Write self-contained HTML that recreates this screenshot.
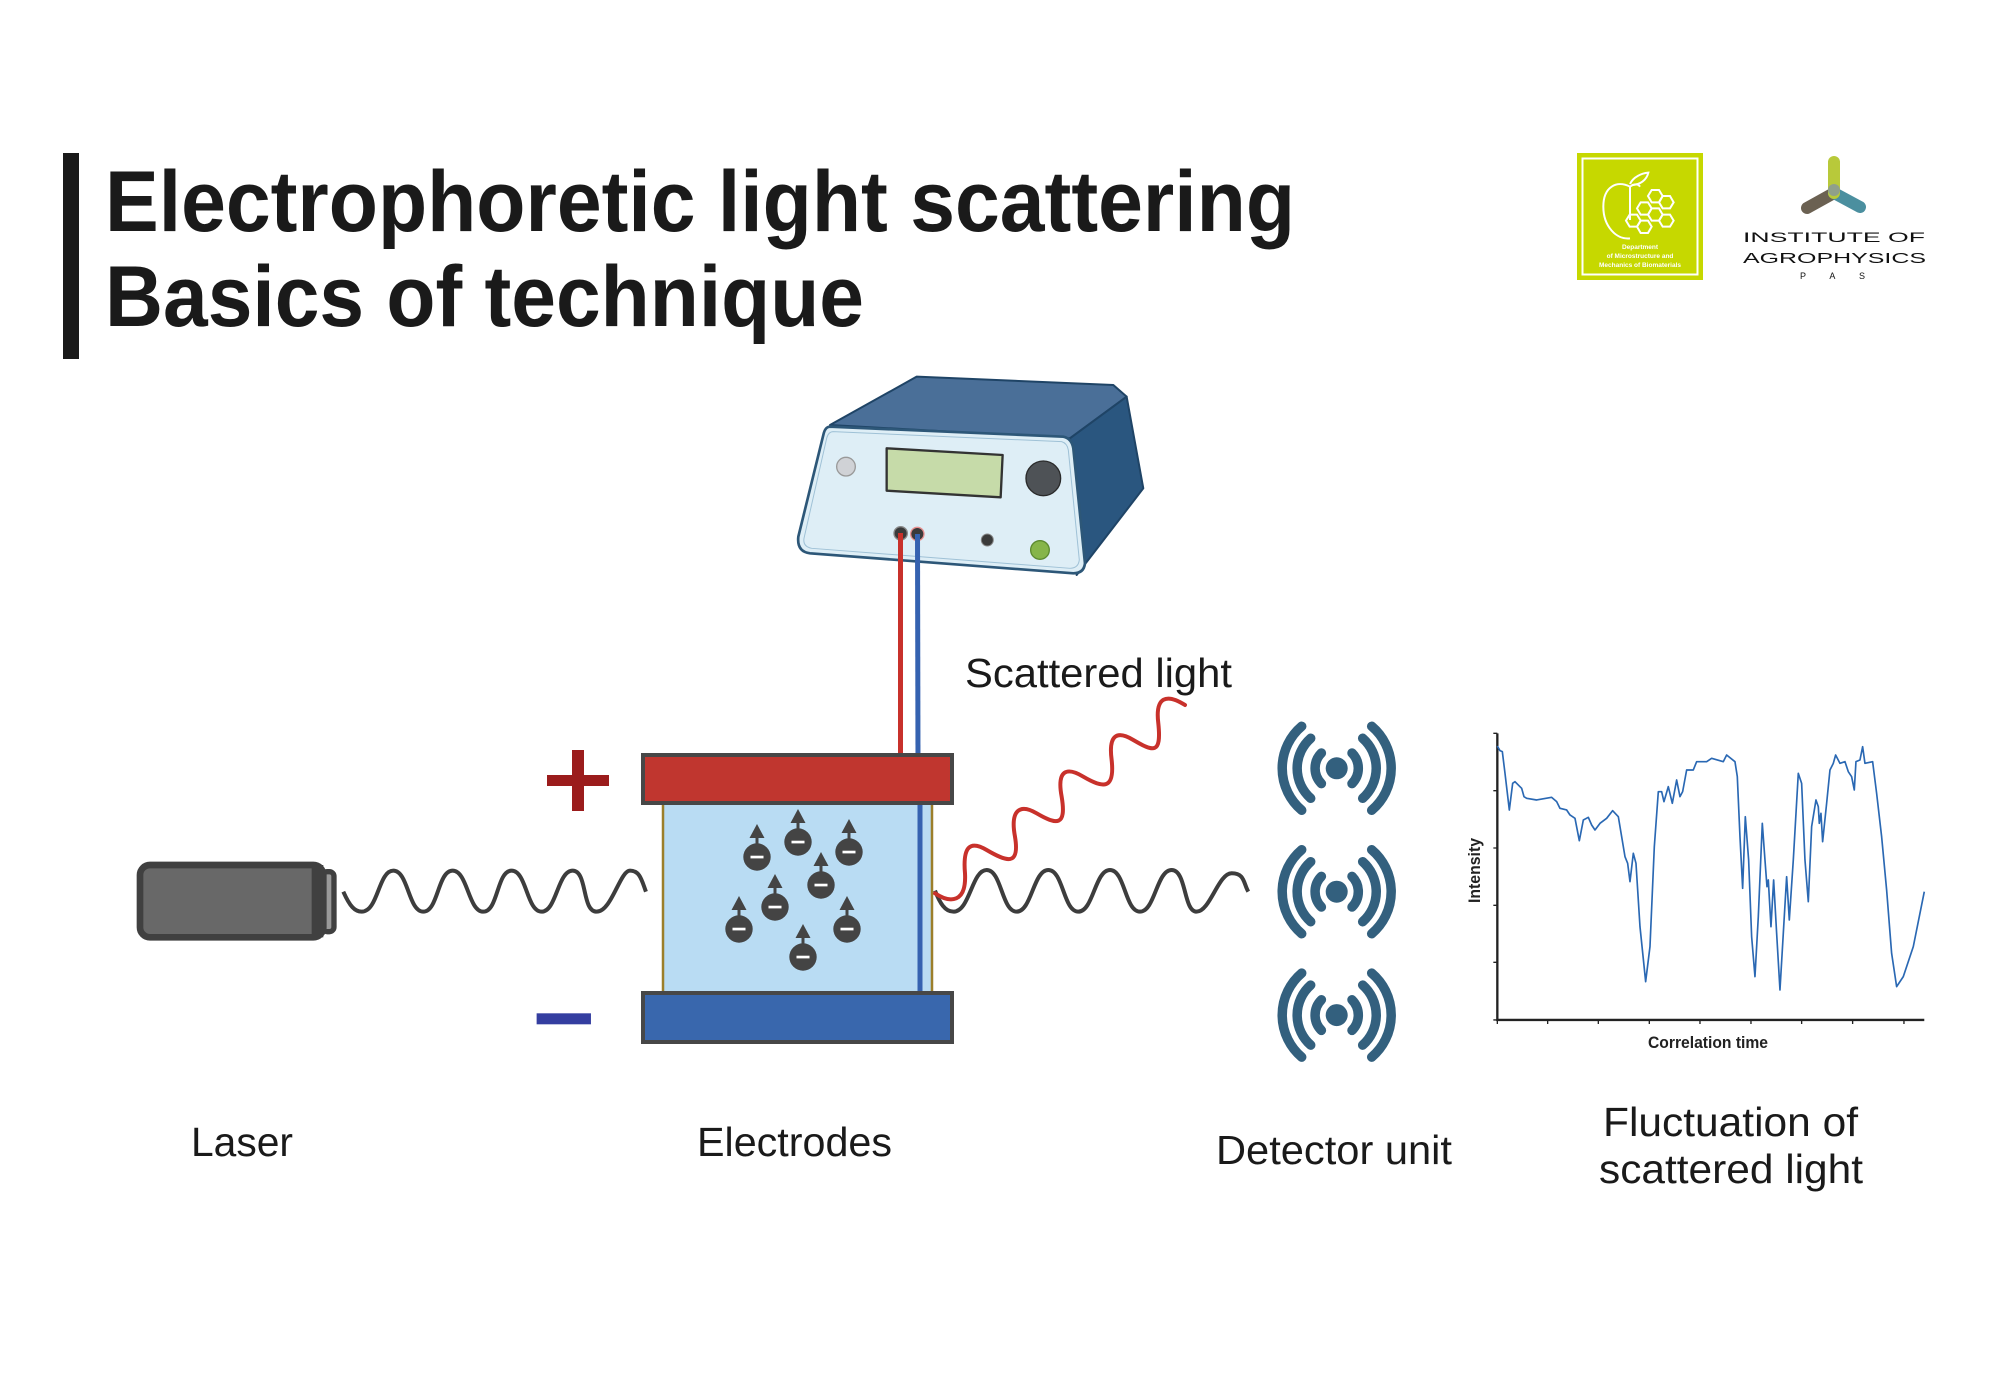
<!DOCTYPE html>
<html><head><meta charset="utf-8"><style>
html,body{margin:0;padding:0;background:#fff;}
svg{display:block}
</style></head><body>
<svg width="2000" height="1400" viewBox="0 0 2000 1400" xmlns="http://www.w3.org/2000/svg" font-family="Liberation Sans, sans-serif">
<rect width="2000" height="1400" fill="#fff"/>
<!-- title -->
<rect x="63" y="153" width="16" height="206" fill="#1a1a1a"/>
<text x="105" y="231" font-size="86" font-weight="bold" fill="#1a1a1a" textLength="1190" lengthAdjust="spacingAndGlyphs">Electrophoretic light scattering</text>
<text x="105" y="326" font-size="86" font-weight="bold" fill="#1a1a1a" textLength="759" lengthAdjust="spacingAndGlyphs">Basics of technique</text>

<!-- green logo -->
<rect x="1577" y="153" width="126" height="127" fill="#c6d800"/>
<rect x="1582.5" y="158.5" width="115" height="116" fill="none" stroke="#fff" stroke-width="2"/>
<g transform="translate(1580,160) scale(0.3333)" fill="none" stroke="#fff" stroke-width="6">
<path d="M150 80 C110 60,70 80,70 140 C70 200,110 240,150 235"/>
<path d="M150 80 C165 70,175 72,180 80"/>
<path d="M150 80 L150 180"/>
<path d="M150 72 C160 50,185 40,205 38 C200 60,180 75,155 75"/>
<polygon points="215,90 237,90 248,108 237,127 215,127 204,108"/>
<polygon points="248,108 270,108 281,127 270,145 248,145 237,127"/>
<polygon points="182,127 204,127 215,145 204,164 182,164 171,145"/>
<polygon points="215,145 237,145 248,164 237,182 215,182 204,164"/>
<polygon points="248,164 270,164 281,182 270,200 248,200 237,182"/>
<polygon points="149,164 171,164 182,182 171,200 149,200 138,182"/>
<polygon points="182,182 204,182 215,200 204,219 182,219 171,200"/>
</g>
<g fill="#fff" font-size="6.5" font-weight="bold" text-anchor="middle">
<text x="1640" y="249">Department</text>
<text x="1640" y="258">of Microstructure and</text>
<text x="1640" y="267">Mechanics of Biomaterials</text>
</g>
<!-- institute logo -->
<g stroke-linecap="round" stroke-width="12">
<line x1="1834" y1="193" x2="1807" y2="208" stroke="#6b6152"/>
<line x1="1834" y1="193" x2="1860" y2="207" stroke="#4b8f9f"/>
<line x1="1834" y1="193" x2="1834" y2="162" stroke="#b8c93a"/>
</g>
<circle cx="1834" cy="190" r="6" fill="#8fa08a"/>
<text x="1743" y="242" font-size="14" fill="#111" textLength="182" lengthAdjust="spacingAndGlyphs">INSTITUTE OF</text>
<text x="1743" y="263" font-size="15" fill="#111" textLength="183" lengthAdjust="spacingAndGlyphs">AGROPHYSICS</text>
<text x="1800" y="279" font-size="9" fill="#111" textLength="65" lengthAdjust="spacing">P A S</text>

<!-- power supply -->
<g transform="translate(780,360) scale(0.3333)">
<polygon points="150,195 410,50 1000,75 1040,110 870,235" fill="#4a6f98" stroke="#1f4466" stroke-width="6" stroke-linejoin="round"/>
<polygon points="870,235 1040,110 1090,385 890,645 915,610" fill="#2a567f" stroke="#1f4466" stroke-width="6" stroke-linejoin="round"/>
<path d="M150 200 L850 230 Q875 235 880 265 L915 610 Q912 640 880 640 L90 580 Q50 575 55 530 L130 225 Q135 200 150 200 Z" fill="#deeef6" stroke="#2d5778" stroke-width="8"/>
<path d="M160 215 L845 245 Q862 250 865 270 L898 600 Q895 625 870 625 L95 565 Q68 560 72 535 L140 235 Q145 215 160 215 Z" fill="none" stroke="#9fc1d6" stroke-width="3"/>
<polygon points="320,265 668,285 662,412 320,392" fill="#c6dba9" stroke="#333" stroke-width="7" stroke-linejoin="round"/>
<circle cx="790" cy="355" r="52" fill="#4e5256" stroke="#2a2a2a" stroke-width="4"/>
<circle cx="198" cy="320" r="28" fill="#d0d2d6" stroke="#999" stroke-width="4"/>
<circle cx="362" cy="520" r="20" fill="#3a3a3a" stroke="#888" stroke-width="4"/>
<circle cx="412" cy="522" r="20" fill="#3a3a3a" stroke="#e89090" stroke-width="4"/>
<circle cx="622" cy="540" r="18" fill="#3a3a3a" stroke="#888" stroke-width="3"/>
<circle cx="780" cy="570" r="28" fill="#86b54a" stroke="#5c8a30" stroke-width="4"/>
</g>
<!-- wires -->
<line x1="900.5" y1="533" x2="900.5" y2="757" stroke="#c8312b" stroke-width="5"/>
<line x1="917.5" y1="534" x2="918.5" y2="994" stroke="#3562b0" stroke-width="5"/>

<!-- cell -->
<rect x="663" y="803" width="269" height="190" fill="#b9dcf3" stroke="#9c7f2a" stroke-width="2.5"/>
<line x1="920" y1="803" x2="920" y2="993" stroke="#3562b0" stroke-width="5"/>
<rect x="643" y="755" width="309" height="48" fill="#c0362f" stroke="#474747" stroke-width="4"/>
<rect x="643" y="993" width="309" height="49" fill="#3967ad" stroke="#474747" stroke-width="4"/>
<!-- plus/minus -->
<rect x="547" y="775" width="62" height="11" fill="#9b1c1c"/>
<rect x="572" y="750" width="12" height="61" fill="#9b1c1c"/>

<!-- particles -->
<g fill="#444">
<g id="p" transform="translate(757,857)"><circle r="13.7"/><path d="M0 -33 L7.5 -19 L-7.5 -19 Z"/><rect x="-1.5" y="-20" width="3" height="8"/><rect x="-6.5" y="-1.3" width="13" height="2.7" fill="#fff"/></g>
<use href="#p" transform="translate(41,-15)"/>
<use href="#p" transform="translate(92,-5)"/>
<use href="#p" transform="translate(64,28)"/>
<use href="#p" transform="translate(18,50)"/>
<use href="#p" transform="translate(-18,72)"/>
<use href="#p" transform="translate(90,72)"/>
<use href="#p" transform="translate(46,100)"/>
</g>

<!-- laser and left wave -->
<g transform="translate(130,850) scale(0.3333)">
<rect x="578" y="65" width="34" height="180" rx="14" fill="#999" stroke="#404040" stroke-width="16"/>
<rect x="30" y="45" width="550" height="217" rx="30" fill="#686868" stroke="#404040" stroke-width="20"/>
<rect x="545" y="45" width="35" height="217" fill="#404040"/>
<path d="M640 125 C660 170,675 185,695 185 C745 185,745 62,790 62 S835 185,880 185 S923 62,968 62 S1015 185,1060 185 S1100 62,1145 62 S1190 185,1235 185 S1283 62,1328 62 S1355 185,1400 185 S1470 62,1500 62 S1535 90,1548 125" fill="none" stroke="#3d3d3d" stroke-width="12"/>
<rect x="1220" y="490" width="163" height="33" fill="#343ea0"/>
</g>

<!-- right wave and scattered -->
<g transform="translate(920,640) scale(0.3333)">
<path d="M45 752 C60 790,75 815,100 815 C150 815,155 690,200 690 S245 815,290 815 S340 690,385 690 S430 815,475 815 S525 690,570 690 S615 815,660 815 S710 690,755 690 S790 815,830 815 S895 700,935 700 S970 730,985 755" fill="none" stroke="#3d3d3d" stroke-width="12"/>
<path d="M45 760 C90 790,140 790,135 700 C128 620,150 600,200 630 C260 665,300 680,285 590 C270 510,300 490,350 520 C410 555,440 560,425 470 C410 390,440 380,490 410 C550 445,585 450,575 360 C565 285,590 270,640 300 C700 335,725 345,715 250 C705 170,740 160,795 195" fill="none" stroke="#c8312b" stroke-width="12" stroke-linecap="round"/>
</g>
<text x="965" y="687" font-size="41" fill="#1a1a1a" textLength="267" lengthAdjust="spacingAndGlyphs">Scattered light</text>

<!-- detectors -->
<g fill="none" stroke="#33607e" stroke-width="9.5" stroke-linecap="round">
<g id="d" transform="translate(1336.7,768.3)">
<circle r="11" fill="#33607e" stroke="none"/>
<path d="M-15.3 -15.3 A21.7 21.7 0 0 0 -15.3 15.3 M15.3 -15.3 A21.7 21.7 0 0 1 15.3 15.3"/>
<path d="M-26 -30 A40 40 0 0 0 -26 30 M26 -30 A40 40 0 0 1 26 30"/>
<path d="M-35 -42 A55 55 0 0 0 -35 42 M35 -42 A55 55 0 0 1 35 42"/>
</g>
<use href="#d" transform="translate(0,123.4)"/>
<use href="#d" transform="translate(0,246.8)"/>
</g>

<!-- graph -->
<g transform="translate(1460,720) scale(0.3333)">
<path d="M112 40 V900 H1393" fill="none" stroke="#222" stroke-width="7"/>
<path d="M100 40 H112 M100 212 H112 M100 384 H112 M100 556 H112 M100 727 H112 M100 900 H112 M112 900 V912 M263 900 V912 M415 900 V912 M568 900 V912 M720 900 V912 M873 900 V912 M1025 900 V912 M1178 900 V912 M1332 900 V912" stroke="#222" stroke-width="4"/>
<polyline fill="none" stroke="#2a68b3" stroke-width="5" stroke-linejoin="round" points="112,78 120,92 127,95 135,160 148,270 158,190 165,185 180,200 185,205 192,230 200,235 230,240 275,232 290,245 300,265 320,270 330,285 345,295 358,362 370,300 385,292 395,315 405,330 420,310 440,295 458,272 475,290 485,350 495,410 503,430 510,485 520,400 528,430 540,620 557,785 570,680 583,380 595,215 605,215 612,245 625,200 637,250 650,180 660,230 668,215 680,150 700,150 710,125 740,125 755,115 790,125 800,105 825,125 832,170 840,350 848,505 856,290 866,420 875,650 885,770 895,590 907,310 915,420 921,500 925,480 933,620 941,480 950,640 960,810 970,640 980,470 988,600 1000,420 1015,160 1025,190 1035,420 1045,545 1055,320 1068,240 1075,260 1078,310 1083,280 1088,365 1100,250 1110,150 1120,130 1127,105 1140,130 1155,125 1165,155 1175,170 1183,210 1188,125 1200,120 1208,80 1215,130 1238,125 1250,220 1265,350 1280,510 1295,700 1310,800 1330,770 1360,680 1393,515"/>
</g>
<text transform="translate(1480,903) rotate(-90)" font-size="17" font-weight="bold" fill="#222" textLength="65" lengthAdjust="spacingAndGlyphs">Intensity</text>
<text x="1648" y="1048" font-size="17" font-weight="bold" fill="#222" textLength="120" lengthAdjust="spacingAndGlyphs">Correlation time</text>

<!-- labels -->
<g font-size="41" fill="#1a1a1a">
<text x="191" y="1156" textLength="102" lengthAdjust="spacingAndGlyphs">Laser</text>
<text x="697" y="1156" textLength="195" lengthAdjust="spacingAndGlyphs">Electrodes</text>
<text x="1216" y="1164" textLength="236" lengthAdjust="spacingAndGlyphs">Detector unit</text>
<text x="1603" y="1136" textLength="255" lengthAdjust="spacingAndGlyphs">Fluctuation of</text>
<text x="1599" y="1183" textLength="264" lengthAdjust="spacingAndGlyphs">scattered light</text>
</g>
</svg>
</body></html>
